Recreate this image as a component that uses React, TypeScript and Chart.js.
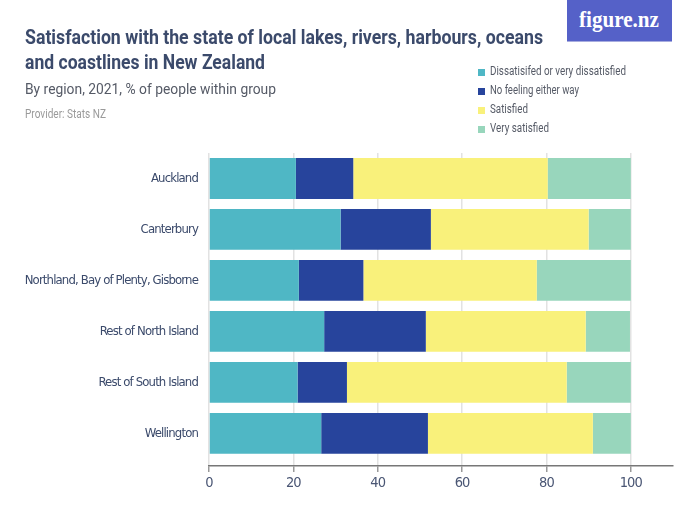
import React, { useEffect, useLayoutEffect, useRef } from "react";
import { Chart, registerables } from "chart.js";

Chart.register(...registerables);

const regions = [
  "Auckland",
  "Canterbury",
  "Northland, Bay of Plenty, Gisborne",
  "Rest of North Island",
  "Rest of South Island",
  "Wellington",
];
const dissatisfied = [20.6, 31.2, 21.3, 27.3, 21.0, 26.6];
const noFeeling = [13.6, 21.4, 15.3, 24.1, 11.7, 25.3];
const satisfied = [46.1, 37.4, 41.1, 37.9, 52.1, 39.1];
const verySatisfied = [19.7, 10.0, 22.3, 10.5, 15.2, 9.0];
const seriesNames = [
  "Dissatisifed or very dissatisfied",
  "No feeling either way",
  "Satisfied",
  "Very satisfied",
];
const seriesColors = ["#4fb7c5", "#27449c", "#f9f17b", "#98d6bc"];
const xTicks = [0, 20, 40, 60, 80, 100];

const CANVAS_FONT = "'DejaVu Sans Condensed', 'DejaVu Sans', sans-serif";
const HTML_FONT = "Roboto, 'DejaVu Sans', sans-serif";

function FitText(props: {
  text: string;
  width: number;
  left: number;
  top: number;
  size: number;
  color: string;
  weight?: string | number;
  family?: string;
}) {
  const ref = useRef<HTMLSpanElement | null>(null);
  useLayoutEffect(() => {
    const el = ref.current;
    if (!el) return;
    el.style.transform = "none";
    const w = el.getBoundingClientRect().width;
    if (w > 0) el.style.transform = `scaleX(${props.width / w})`;
  });
  return (
    <span
      ref={ref}
      style={{
        position: "absolute",
        left: props.left,
        top: props.top,
        whiteSpace: "nowrap",
        display: "inline-block",
        transformOrigin: "0 0",
        fontFamily: props.family || HTML_FONT,
        fontSize: props.size,
        lineHeight: "normal",
        fontWeight: props.weight || "normal",
        color: props.color,
      }}
    >
      {props.text}
    </span>
  );
}

const letterSpacingPlugin = {
  id: "narrowText",
  beforeDraw(chart: any) {
    chart.ctx.letterSpacing = "-0.85px";
  },
  afterDraw(chart: any) {
    chart.ctx.letterSpacing = "0px";
  },
};

export default function App() {
  const ref = useRef<HTMLCanvasElement | null>(null);
  useEffect(() => {
    if (!ref.current) return;
    const values = [dissatisfied, noFeeling, satisfied, verySatisfied];
    const chart = new Chart(ref.current, {
      type: "bar",
      data: {
        labels: regions,
        datasets: values.map((v, i) => ({
          label: seriesNames[i],
          data: v,
          backgroundColor: seriesColors[i],
          borderWidth: 0,
          barPercentage: 0.8,
          categoryPercentage: 1,
        })),
      },
      plugins: [letterSpacingPlugin],
      options: {
        indexAxis: "y",
        animation: false,
        responsive: false,
        maintainAspectRatio: false,
        layout: { padding: { top: 153, right: 27, left: 0, bottom: 0 } },
        plugins: { legend: { display: false }, tooltip: { enabled: false }, title: { display: false } },
        scales: {
          x: {
            stacked: true,
            min: 0,
            max: 110,
            afterBuildTicks: (s: any) => {
              s.ticks = xTicks.map((v) => ({ value: v }));
            },
            afterFit: (s: any) => {
              s.height = 525 - 466;
            },
            grid: {
              color: "#e2e2e2",
              lineWidth: 1.5,
              tickColor: "#999999",
              tickLength: 6,
            },
            border: { display: true, color: "#777777", width: 1.5 },
            ticks: {
              color: "#4a5674",
              font: { family: CANVAS_FONT, size: 14.5 },
              padding: 3,
              maxRotation: 0,
            },
          },
          y: {
            stacked: true,
            afterBuildTicks: (s: any) => {
              s._valueRange = 6.14;
            },
            afterFit: (s: any) => {
              s.width = 209;
            },
            grid: { display: false, drawTicks: false },
            border: { display: false },
            ticks: {
              color: "#3b4a6b",
              font: { family: CANVAS_FONT, size: 13 },
              padding: 11,
            },
          },
        },
      },
    });
    return () => chart.destroy();
  }, []);

  const legendCenters = [70.5, 89.5, 108.5, 127.5];
  const legendWidths = [136, 89, 38, 59];

  return (
    <div style={{ position: "fixed", left: 0, top: 0, width: 700, height: 525, background: "#fff", overflow: "hidden" }}>
      <canvas ref={ref} width={700} height={525} style={{ position: "absolute", left: 0, top: 0 }} />
      <FitText
        text="Satisfaction with the state of local lakes, rivers, harbours, oceans"
        width={518}
        left={25}
        top={24.5}
        size={20}
        weight="bold"
        color="#3b4a6b"
      />
      <FitText
        text="and coastlines in New Zealand"
        width={240}
        left={25}
        top={50}
        size={20}
        weight="bold"
        color="#3b4a6b"
      />
      <FitText text="By region, 2021, % of people within group" width={251} left={25} top={80} size={15.5} color="#555a66" />
      <FitText text="Provider: Stats NZ" width={81} left={25} top={106.5} size={12} color="#9a9a9a" />
      {seriesNames.map((n, i) => (
        <React.Fragment key={n}>
          <span
            style={{
              position: "absolute",
              left: 478,
              top: legendCenters[i] - 1.5,
              width: 7,
              height: 7,
              background: seriesColors[i],
            }}
          />
          <FitText text={n} width={legendWidths[i]} left={490} top={legendCenters[i] - 7} size={12} color="#555a66" />
        </React.Fragment>
      ))}
      <div
        style={{
          position: "absolute",
          left: 567,
          top: 0,
          width: 105,
          height: 41,
          background: "#5561c8",
          borderBottom: "1.5px solid #a7acdf",
        }}
      />
      <FitText
        text="figure.nz"
        width={80}
        left={579}
        top={7}
        size={23}
        weight="bold"
        family="'Liberation Serif', 'DejaVu Serif', serif"
        color="#ffffff"
      />
    </div>
  );
}
